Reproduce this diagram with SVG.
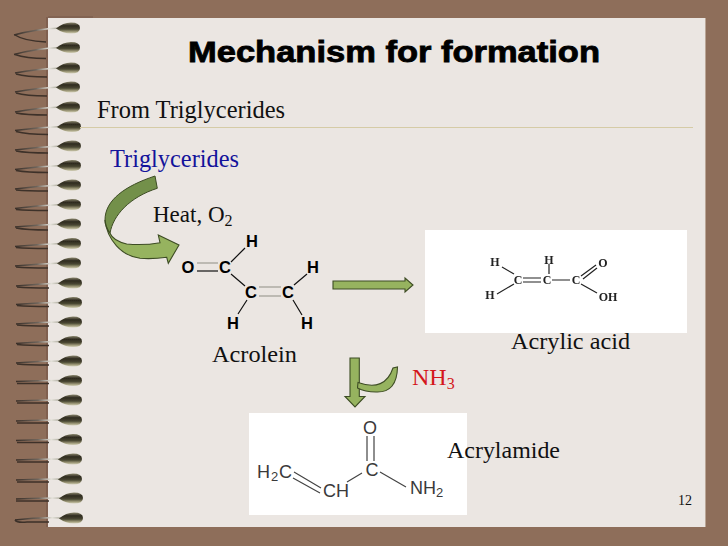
<svg xmlns="http://www.w3.org/2000/svg" width="728" height="546" viewBox="0 0 728 546">
<style>
.t{font-family:"Liberation Serif","Times New Roman",serif;font-size:24px;fill:#111}
.a{font-family:"Liberation Sans",Arial,sans-serif;font-weight:bold;font-size:16.5px;fill:#000;text-anchor:middle}
.b{stroke:#111;stroke-width:1.2;fill:none}
.g{stroke:#aaa69f;stroke-width:1.4;fill:none}
.m{font-family:"Liberation Serif",serif;font-size:12px;font-weight:bold;fill:#222;text-anchor:middle}
.mb{stroke:#222;stroke-width:1.2;fill:none}
.n{font-family:"Liberation Sans",Arial,sans-serif;font-size:18px;fill:#3a3a3a}
.nb{stroke:#444;stroke-width:1.2;fill:none}
.up{stroke:url(#wire);stroke-width:1.5;fill:none}
.lo{stroke:#3d3129;stroke-width:1.5;fill:none}
.ar{fill:#96b35f;stroke:#3d4c24;stroke-width:1.1}
</style>
<defs>
<linearGradient id="wire" gradientUnits="userSpaceOnUse" x1="14" y1="0" x2="58" y2="0">
<stop offset="0" stop-color="#3a2f28"/><stop offset=".5" stop-color="#6e655c"/><stop offset=".8" stop-color="#e4e2da"/><stop offset="1" stop-color="#a9a799"/>
</linearGradient>
<linearGradient id="bead" x1="0" y1="0" x2="0" y2="1">
<stop offset="0" stop-color="#8a866c"/><stop offset=".3" stop-color="#2e2b1e"/><stop offset=".6" stop-color="#4a4733"/><stop offset=".85" stop-color="#a5a07f"/><stop offset="1" stop-color="#d2cfb8"/>
</linearGradient>
<filter id="soft" x="-20%" y="-20%" width="140%" height="140%"><feGaussianBlur stdDeviation=".45"/></filter>
<filter id="beadsoft" x="-20%" y="-30%" width="140%" height="160%"><feGaussianBlur stdDeviation=".7"/></filter>
<g id="head"><path filter="url(#beadsoft)" d="M56 .5Q63 -5.500 71 -5.500Q80 -5.500 80 0Q80 5.500 71 5.500Q63 5.500 56 .5Z" fill="url(#bead)"/></g>
</defs>
<rect id="background" width="728" height="546" fill="#8e6e5a"/>
<path d="M48 17H93M47 17V527" stroke="#77584a" stroke-width="1.2" fill="none"/>
<rect id="page" x="48" y="18" width="657" height="509" fill="#ebe6e2"/>
<path d="M705.500 18V527" stroke="#b9a596" stroke-width="1"/>
<g id="binding">
<g transform="translate(0,28)"><path class="lo" d="M15 7Q24 13 46 14"/><path class="up" d="M60 0Q36 1 14 7"/><use href="#head"/></g>
<g transform="translate(0,47.500)"><path class="lo" d="M15 7Q26 11 46 11"/><path class="up" d="M60 0Q36 1 14 7"/><use href="#head"/></g>
<g transform="translate(0,68)"><path class="lo" d="M16 6Q26 9 47 9"/><path class="up" d="M60 0Q36 1 15 5"/><use href="#head"/></g>
<g transform="translate(0,87)"><path class="lo" d="M16 6Q26 9 47 9"/><path class="up" d="M60 0Q36 1 15 5"/><use href="#head"/></g>
<g transform="translate(0,107)"><path class="lo" d="M16 6Q26 8 47 8"/><path class="up" d="M60 0Q36 1 15 5"/><use href="#head"/></g>
<g transform="translate(1,126.500)"><path class="lo" d="M15 5Q26 8 47 8"/><path class="up" d="M60 0Q36 1 14 4"/><use href="#head"/></g>
<g transform="translate(1,146)"><path class="lo" d="M15 5Q26 7 47 7"/><path class="up" d="M60 0Q36 1 14 4"/><use href="#head"/></g>
<g transform="translate(1,165.500)"><path class="lo" d="M15 5Q26 7 47 7"/><path class="up" d="M60 0Q36 1 14 4"/><use href="#head"/></g>
<g transform="translate(1,185)"><path class="lo" d="M15 5Q26 6 47 6"/><path class="up" d="M60 0Q36 1 14 4"/><use href="#head"/></g>
<g transform="translate(1,204.500)"><path class="lo" d="M15 5Q26 6 47 6"/><path class="up" d="M60 0Q36 1 14 4"/><use href="#head"/></g>
<g transform="translate(1,224)"><path class="lo" d="M15 4Q26 6 47 6"/><path class="up" d="M60 0Q36 1 14 3"/><use href="#head"/></g>
<g transform="translate(1,243.500)"><path class="lo" d="M15 4Q26 5 47 5"/><path class="up" d="M60 0Q36 1 14 3"/><use href="#head"/></g>
<g transform="translate(1,263)"><path class="lo" d="M15 4Q26 5 47 5"/><path class="up" d="M60 0Q36 1 14 3"/><use href="#head"/></g>
<g transform="translate(2,283)"><path class="lo" d="M15 4Q26 5 47 5"/><path class="up" d="M60 0Q36 1 14 3"/><use href="#head"/></g>
<g transform="translate(2,302.500)"><path class="lo" d="M15 3Q26 4 47 4"/><path class="up" d="M60 0Q36 0 14 2"/><use href="#head"/></g>
<g transform="translate(2,322)"><path class="lo" d="M15 3Q26 4 47 4"/><path class="up" d="M60 0Q36 0 14 2"/><use href="#head"/></g>
<g transform="translate(2,341.500)"><path class="lo" d="M15 3Q26 4 47 4"/><path class="up" d="M60 0Q36 0 14 2"/><use href="#head"/></g>
<g transform="translate(2,361)"><path class="lo" d="M15 3Q26 4 47 4"/><path class="up" d="M60 0Q36 0 14 2"/><use href="#head"/></g>
<g transform="translate(2,380.500)"><path class="lo" d="M15 3Q26 3 47 3"/><path class="up" d="M60 0Q36 0 14 1"/><use href="#head"/></g>
<g transform="translate(2,400)"><path class="lo" d="M15 3Q26 3 47 3"/><path class="up" d="M60 0Q36 0 14 1"/><use href="#head"/></g>
<g transform="translate(2,420)"><path class="lo" d="M15 3Q26 3 47 3"/><path class="up" d="M60 0Q36 0 14 1"/><use href="#head"/></g>
<g transform="translate(2,439.500)"><path class="lo" d="M15 3Q26 3 47 3"/><path class="up" d="M60 0Q36 0 14 1"/><use href="#head"/></g>
<g transform="translate(2,459)"><path class="lo" d="M15 3Q26 3 47 3"/><path class="up" d="M60 0Q36 0 14 1"/><use href="#head"/></g>
<g transform="translate(2,479)"><path class="lo" d="M15 3Q26 3 47 3"/><path class="up" d="M60 0Q36 0 14 1"/><use href="#head"/></g>
<g transform="translate(3,498)"><path class="lo" d="M13 3Q26 3 46 3"/><path class="up" d="M60 0Q36 0 13 1"/><use href="#head"/></g>
<g transform="translate(3,518)"><path class="lo" d="M12 2Q14 5 24 4Q36 4 46 4"/><path class="up" d="M60 0Q36 -1 12 2"/><use href="#head"/></g>
</g>
<rect id="rule" x="80" y="127" width="613" height="1" fill="#d5cba6"/>
<g id="heading">
<text x="188" y="62" textLength="412" lengthAdjust="spacingAndGlyphs" font-family="'Liberation Sans',Arial,sans-serif" font-weight="bold" font-size="29" fill="#000" stroke="#000" stroke-width=".8">Mechanism for formation</text>
<text class="t" x="97" y="118" textLength="188" lengthAdjust="spacingAndGlyphs" style="font-size:25.500px">From Triglycerides</text>
</g>
<g id="triglycerides"><text class="t" x="110" y="167" textLength="129" lengthAdjust="spacingAndGlyphs" style="fill:#13139b;font-size:25px">Triglycerides</text></g>
<g id="heat"><text class="t" x="153" y="222" style="font-size:23px">Heat, O<tspan font-size="16" dy="4">2</tspan></text></g>
<g id="acrolein">
<path class="g" d="M197 263H218"/><path class="b" d="M197 271H218"/>
<path class="g" d="M259 287H281"/><path class="g" d="M259 296H281"/>
<path class="b" d="M231 262L245 248M231 274L245 286M294 285L307 274M247 300L238 314M293 300L302 315"/>
<text class="a" x="188" y="273">O</text><text class="a" x="225" y="273">C</text><text class="a" x="252" y="247">H</text>
<text class="a" x="251" y="298">C</text><text class="a" x="288" y="298">C</text><text class="a" x="313" y="273">H</text>
<text class="a" x="233" y="329">H</text><text class="a" x="307" y="329">H</text>
<text class="t" x="212" y="362" textLength="85" lengthAdjust="spacingAndGlyphs">Acrolein</text>
</g>
<g id="acrylic-acid">
<rect x="425" y="230" width="262" height="103" fill="#fff"/>
<g filter="url(#soft)">
<path class="mb" d="M502 267L514 274M497 294L514 284M523 278H541M523 282H541M552 280H570M549 264V274M581 276L596 265M583 279L597 268M581 284L597 293"/>
<text class="m" x="495" y="266">H</text><text class="m" x="490" y="299">H</text><text class="m" x="518" y="284">C</text><text class="m" x="547" y="284">C</text><text class="m" x="549" y="264">H</text><text class="m" x="576" y="284">C</text><text class="m" x="603" y="267">O</text><text class="m" x="608" y="301">OH</text>
</g>
<text class="t" x="511" y="349" textLength="119" lengthAdjust="spacingAndGlyphs">Acrylic acid</text>
</g>
<g id="acrylamide">
<rect x="249" y="413" width="218" height="102" fill="#fff"/>
<text x="370" y="434" text-anchor="middle" class="n">O</text>
<text x="372" y="476" text-anchor="middle" class="n">C</text>
<path class="nb" d="M367 436V461M374 436V461M294 472L321 488M293 478L320 493M347 482L362 473M380 472L406 487"/>
<text class="n" x="257" y="478" textLength="35">H<tspan font-size="13" dy="3">2</tspan><tspan dy="-3">C</tspan></text>
<text class="n" x="323" y="497">CH</text>
<text class="n" x="410" y="494">NH<tspan font-size="13" dy="3">2</tspan></text>
<text class="t" x="447" y="458" textLength="113" lengthAdjust="spacingAndGlyphs">Acrylamide</text>
</g>
<g id="ammonia"><text class="t" x="412" y="385" style="fill:#d4171c">NH<tspan font-size="16" dy="4">3</tspan></text></g>
<g id="page-number"><text x="678" y="505" font-family="'Liberation Serif',serif" font-size="14" fill="#111">12</text></g>
<g id="connectors">
<path fill="#73904a" stroke="#3d4c24" stroke-width="1" d="M155 176L157.300 188.300C130 197 113 215 110 233.300C107 229 105 225 105 220C105 200 125 186 155 176Z"/>
<path class="ar" d="M105 220C107 240 122 256 140 258.300C150 259 158 258.500 166.700 257.300L168.300 263.300L179 245L158.300 235L160 242.700C150 244.500 138 245 126.700 244C118 242 112 238 110 233.300C107 229 105 225 105 220Z"/>
<path class="ar" d="M333 281H405V278L413 285L405 292V289H333Z"/>
<path class="ar" d="M350 358H359.300V396.500H365L355 407L345 396.500H350Z"/>
<path class="ar" d="M358 382.500Q385 392 393 368L397.500 367Q397 393 376 392Q365 392 357.500 388Z"/>
</g>
</svg>
